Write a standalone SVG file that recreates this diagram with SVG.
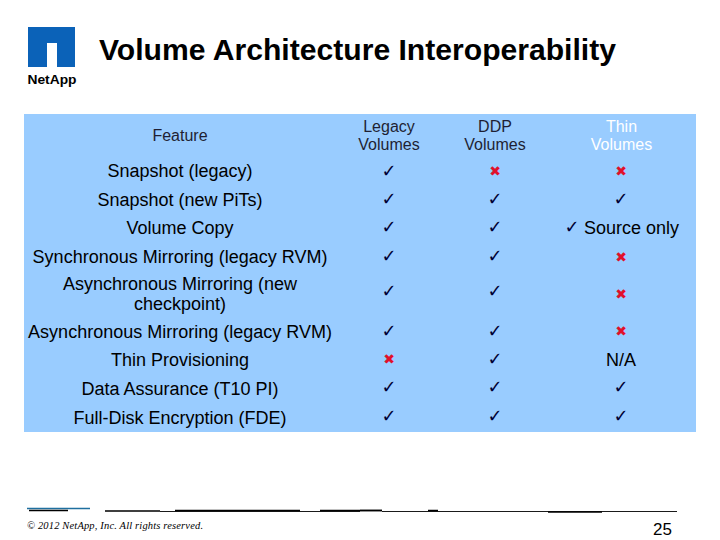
<svg xmlns="http://www.w3.org/2000/svg" width="720" height="540" viewBox="0 0 720 540">
<style>
text{font-family:"Liberation Sans",Arial,sans-serif;fill:#000}
.t{font-size:18px;text-anchor:middle}
.h{font-size:16px;text-anchor:middle;fill:#1f1f33}
.c{font-family:"DejaVu Sans",sans-serif;font-size:18px;text-anchor:middle;fill:#000033}
.x{font-family:"DejaVu Sans",sans-serif;font-size:14px;text-anchor:middle;fill:#e0102a}
</style>
<rect width="720" height="540" fill="#fff"/>
<g id="logo">
<path d="M28 27H75V67H57V43H47V67H28Z" fill="#0b62b8"/>
<text x="27.500" y="84" font-size="12.500" font-weight="bold" textLength="49" lengthAdjust="spacingAndGlyphs">NetApp</text>
</g>
<text id="title" x="99" y="60" font-size="30" font-weight="bold" textLength="517" lengthAdjust="spacingAndGlyphs">Volume Architecture Interoperability</text>
<g id="table">
<rect x="24" y="114" width="672" height="318" fill="#99ccff"/>
<text class="h" x="180" y="141">Feature</text>
<text class="h" x="389" y="132">Legacy</text><text class="h" x="389" y="150">Volumes</text>
<text class="h" x="495" y="132">DDP</text><text class="h" x="495" y="150">Volumes</text>
<text class="h" x="621.500" y="132" style="fill:#fff">Thin</text><text class="h" x="621.500" y="150" style="fill:#fff">Volumes</text>

<text class="t" x="180" y="177">Snapshot (legacy)</text>
<text class="c" x="389" y="177">✓</text><text class="x" x="495" y="176">✖</text><text class="x" x="621" y="176">✖</text>

<text class="t" x="180" y="206">Snapshot (new PiTs)</text>
<text class="c" x="389" y="205">✓</text><text class="c" x="495" y="205">✓</text><text class="c" x="621" y="205">✓</text>

<text class="t" x="180" y="234">Volume Copy</text>
<text class="c" x="389" y="233">✓</text><text class="c" x="495" y="233">✓</text><text class="c" x="572" y="233">✓</text><text x="584" y="234" font-size="18">Source only</text>

<text class="t" x="180" y="263">Synchronous Mirroring (legacy RVM)</text>
<text class="c" x="389" y="262">✓</text><text class="c" x="495" y="262">✓</text><text class="x" x="621" y="262">✖</text>

<text class="t" x="180" y="290">Asynchronous Mirroring (new</text>
<text class="t" x="180" y="310">checkpoint)</text>
<text class="c" x="389" y="297">✓</text><text class="c" x="495" y="297">✓</text><text class="x" x="621" y="299">✖</text>

<text class="t" x="180" y="338">Asynchronous Mirroring (legacy RVM)</text>
<text class="c" x="389" y="337">✓</text><text class="c" x="495" y="337">✓</text><text class="x" x="621" y="336">✖</text>

<text class="t" x="180" y="366">Thin Provisioning</text>
<text class="x" x="389" y="364">✖</text><text class="c" x="495" y="365">✓</text><text x="621" y="366" font-size="18" text-anchor="middle">N/A</text>

<text class="t" x="180" y="395">Data Assurance (T10 PI)</text>
<text class="c" x="389" y="393">✓</text><text class="c" x="495" y="393">✓</text><text class="c" x="621" y="393">✓</text>

<text class="t" x="180" y="424">Full-Disk Encryption (FDE)</text>
<text class="c" x="389" y="422">✓</text><text class="c" x="495" y="422">✓</text><text class="c" x="621" y="422">✓</text>
</g>
<g id="footer">
<path d="M27 508.500H90" stroke="#1f6f9f" stroke-width="1.500"/>
<path d="M29 510.500H68M105 511H160M175 510.500H300M320 510.500H382" stroke="#000" stroke-width="1.500"/>
<path d="M360 510.500H382M428 510.500H438M548 512H602" stroke="#000" stroke-width="1.500"/>
<path d="M160 511.500H360M382 511.500H677" stroke="#000" stroke-width="0.900"/>
<text x="27" y="529" font-size="10.500" font-style="italic" style="font-family:'Liberation Serif',serif" textLength="176" lengthAdjust="spacing">© 2012 NetApp, Inc. All rights reserved.</text>
<text x="653" y="535" font-size="17">25</text>
</g>
</svg>
